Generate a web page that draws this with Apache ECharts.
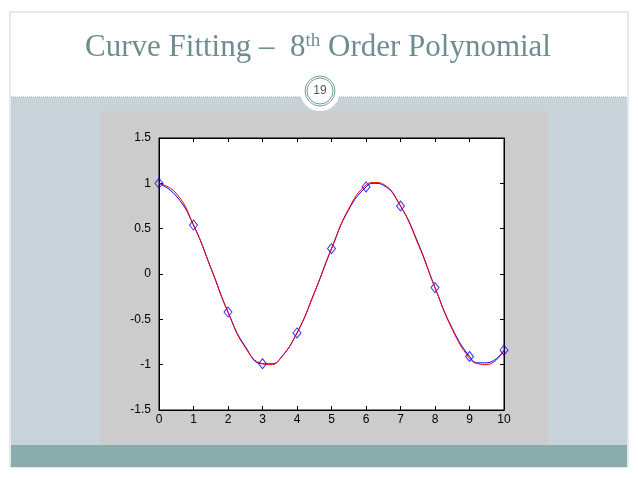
<!DOCTYPE html>
<html><head><meta charset="utf-8">
<script src="https://cdn.jsdelivr.net/npm/echarts@6/dist/echarts.min.js"></script>
<style>html,body{margin:0;padding:0;background:#fff}#c{width:638px;height:478px}</style>
</head><body><div id="c"></div>
<script>
const xs = [0,0.5,1,1.5,2,2.5,3,3.25,3.5,4,4.5,5,5.5,6,6.25,6.5,7,7.5,8,8.5,9,9.25,9.5,10];
const blueVals = [1.00,0.86,0.54,0.07,-0.42,-0.80,-0.99,-0.99,-0.94,-0.65,-0.21,0.28,0.71,0.96,1.00,0.98,0.75,0.35,-0.15,-0.60,-0.91,-0.98,-0.98,-0.84];
const redVals  = [1.00,0.89,0.54,0.07,-0.42,-0.81,-0.99,-1.00,-0.94,-0.65,-0.21,0.28,0.72,0.98,1.01,0.99,0.75,0.34,-0.15,-0.61,-0.93,-0.99,-1.00,-0.84];
const ptX = [0,1,2,3,4,5,6,7,8,9,10];
const ptY = [1.00,0.54,-0.42,-0.99,-0.65,0.28,0.96,0.75,-0.15,-0.91,-0.84];

const chart = echarts.init(document.getElementById('c'));
const axisCommon = {type:'value', axisLine:{show:true,onZero:false,lineStyle:{color:'#000'}}, axisTick:{show:true,inside:true,length:4,lineStyle:{color:'#000'}}, splitLine:{show:false}};
const tc = '#6e8d90';
chart.setOption({
  animation:false,
  graphic:[
    {type:'rect',shape:{x:10,y:12,width:618,height:455},style:{fill:'#fff',stroke:'#c9d3d6',lineWidth:1},z:-10},
    {type:'rect',shape:{x:11,y:97,width:616,height:348},style:{fill:'#c8d3d9'},z:-9},
    {type:'line',shape:{x1:11,y1:97,x2:627,y2:97},style:{stroke:'#9aa',lineWidth:1,lineDash:[1,1]},z:-8},
    {type:'rect',shape:{x:11,y:445,width:616,height:22},style:{fill:'#8aacad'},z:-9},
    {type:'rect',shape:{x:100,y:111,width:448,height:334},style:{fill:'#cccccc'},z:-8},
    {type:'circle',shape:{cx:320,cy:91,r:20},style:{fill:'#fff'},z:-7},
    {type:'circle',shape:{cx:320,cy:91,r:15},style:{fill:'#fff',stroke:'#7a9a9c',lineWidth:1},z:-6},
    {type:'circle',shape:{cx:320,cy:91,r:13},style:{fill:'none',stroke:'#7a9a9c',lineWidth:1},z:-6},
    {type:'text',x:320,y:91,style:{text:'19',fill:'#555',font:'12px "Liberation Sans"',align:'center',verticalAlign:'middle'},z:-5},
    {type:'text',x:318,y:48,style:{text:'{a|Curve Fitting –  8}{s|th}{a| Order Polynomial}',align:'center',verticalAlign:'middle',fill:tc,
      rich:{a:{fontFamily:'Liberation Serif',fontSize:31,fill:tc,color:tc},s:{fontFamily:'Liberation Serif',fontSize:19,fill:tc,color:tc,verticalAlign:'top',padding:[0,0,14,0]}}},z:-5}
  ],
  grid:{left:159,right:134,top:138,bottom:68,show:true,backgroundColor:'#fff',borderColor:'#000',borderWidth:1},
  xAxis:[
    Object.assign({},axisCommon,{min:0,max:10,interval:1,axisLabel:{color:'#000',fontSize:12,fontFamily:'Liberation Sans',margin:4}}),
    Object.assign({},axisCommon,{position:'top',min:0,max:10,interval:1,axisLabel:{show:false}})
  ],
  yAxis:[
    Object.assign({},axisCommon,{min:-1.5,max:1.5,interval:0.5,axisLabel:{color:'#000',fontSize:12,fontFamily:'Liberation Sans',margin:8,formatter:v=>String(v)}}),
    Object.assign({},axisCommon,{position:'right',min:-1.5,max:1.5,interval:0.5,axisLabel:{show:false}})
  ],
  series:[
    {type:'line',data:xs.map((x,i)=>[x,blueVals[i]]),smooth:true,showSymbol:false,lineStyle:{color:'#0000ff',width:1}},
    {type:'line',data:xs.map((x,i)=>[x,redVals[i]]),smooth:true,showSymbol:false,lineStyle:{color:'#ff0000',width:1}},
    {type:'scatter',data:ptX.map((x,i)=>[x,ptY[i]]),symbol:'diamond',symbolSize:[8,10],itemStyle:{color:'transparent',borderColor:'#0000ff',borderWidth:1}}
  ]
});
</script></body></html>
